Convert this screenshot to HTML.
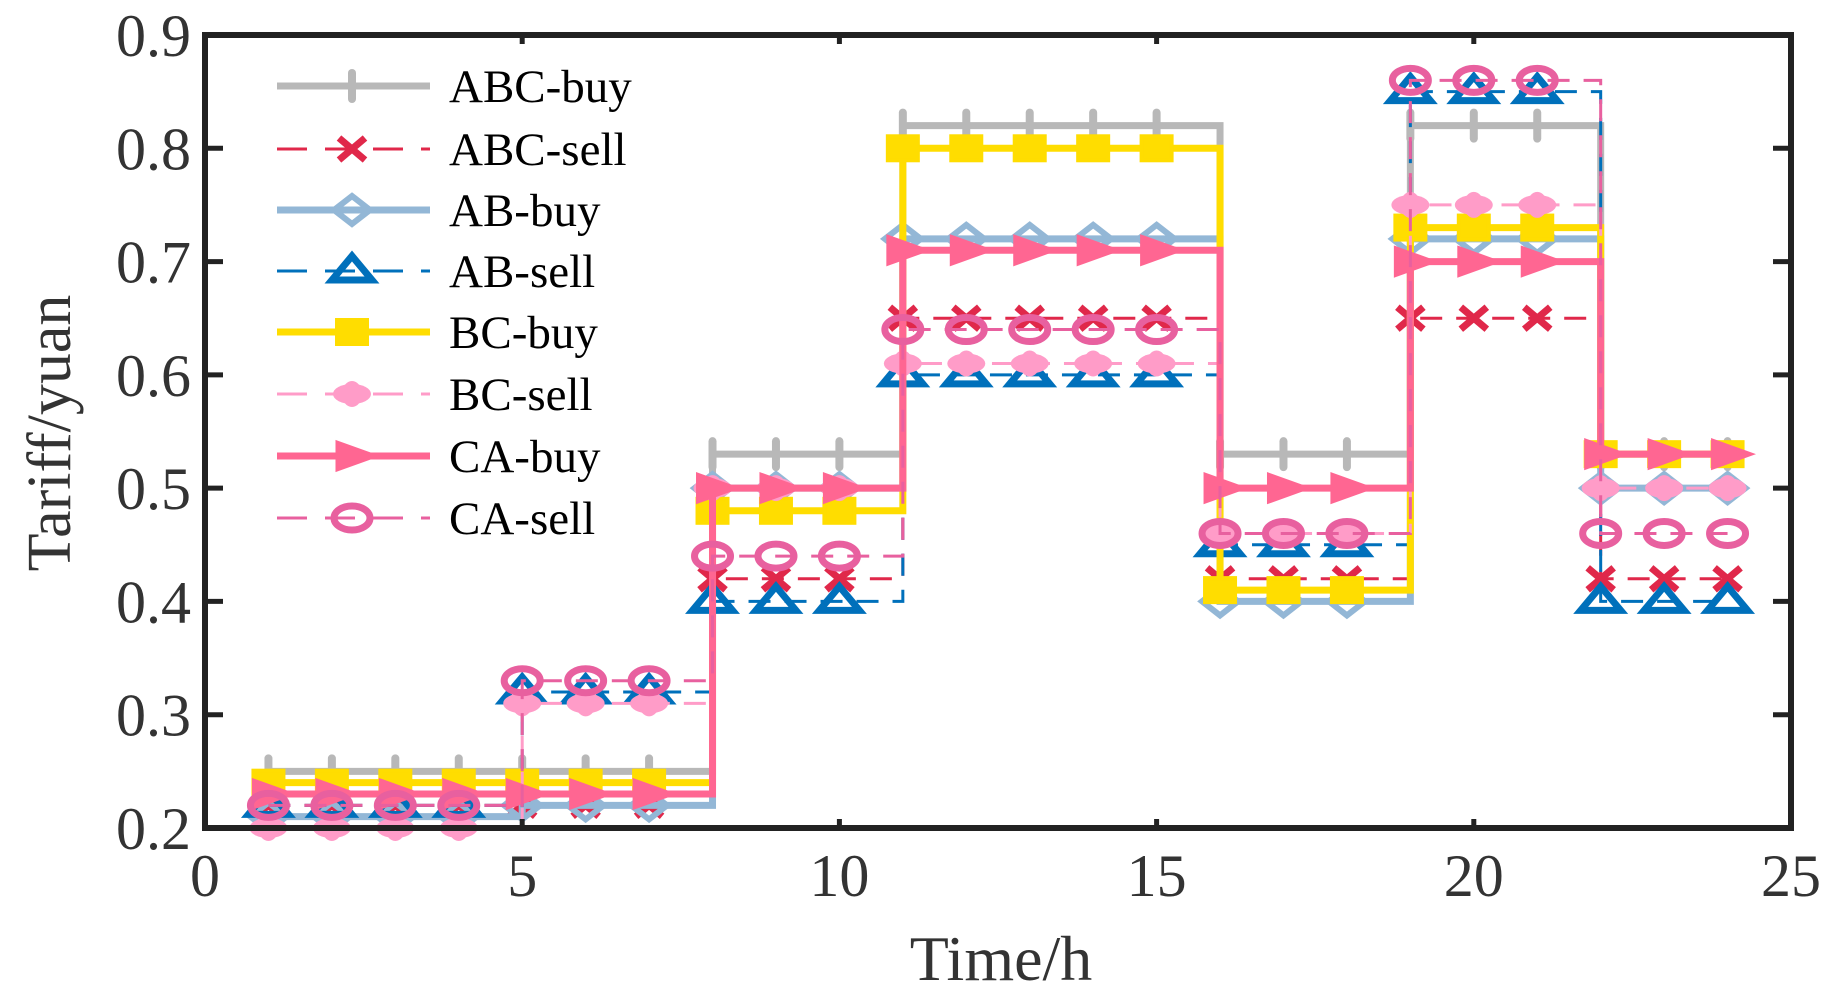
<!DOCTYPE html>
<html><head><meta charset="utf-8"><style>
html,body{margin:0;padding:0;background:#fff;width:1839px;height:1000px;overflow:hidden}
svg text{font-family:"Liberation Serif",serif;fill:#333}
</style></head><body>
<svg id="s" width="1839" height="1000" xmlns="http://www.w3.org/2000/svg"></svg>
<script>
const X0=205,X1=1791,Y0=828,Y1=35;
const sx=v=>X0+(X1-X0)*v/25, sy=v=>Y0-(Y0-Y1)*(v-0.2)/0.7;
const starts=[1,5,8,11,16,19,22];
const S=[
 {n:'ABC-buy',c:'#b8b8b8',w:7,d:'',m:'bar',v:[0.25,0.25,0.53,0.82,0.53,0.82,0.53]},
 {n:'ABC-sell',c:'#e0284a',w:3,d:'22,14',m:'x',v:[0.22,0.22,0.42,0.65,0.42,0.65,0.42]},
 {n:'AB-buy',c:'#93b7d6',w:7,d:'',m:'dia',v:[0.21,0.22,0.50,0.72,0.40,0.72,0.50]},
 {n:'AB-sell',c:'#0070bb',w:3,d:'22,14',m:'tri',v:[0.22,0.32,0.40,0.60,0.45,0.85,0.40]},
 {n:'BC-buy',c:'#ffdd00',w:7,d:'',m:'sq',v:[0.24,0.24,0.48,0.80,0.41,0.73,0.53]},
 {n:'BC-sell',c:'#ff9cc8',w:3,d:'22,14',m:'ast',v:[0.20,0.31,0.50,0.61,0.46,0.75,0.50]},
 {n:'CA-buy',c:'#ff6692',w:7,d:'',m:'tr',v:[0.23,0.23,0.50,0.71,0.50,0.70,0.53]},
 {n:'CA-sell',c:'#e8609f',w:3,d:'22,14',m:'circ',v:[0.22,0.33,0.44,0.64,0.46,0.86,0.46]},
];
function mk(t,x,y,c){
 switch(t){
 case 'bar':return `<line x1="${x}" y1="${y-13}" x2="${x}" y2="${y+13}" stroke="${c}" stroke-width="8" stroke-linecap="round"/>`;
 case 'x':return `<path d="M${x-13} ${y-11}L${x+13} ${y+11}M${x-13} ${y+11}L${x+13} ${y-11}" stroke="${c}" stroke-width="7"/>`;
 case 'dia':return `<path d="M${x} ${y-14}L${x+18} ${y}L${x} ${y+14}L${x-18} ${y}Z" fill="none" stroke="${c}" stroke-width="6"/>`;
 case 'tri':return `<path d="M${x} ${y-15}L${x+20} ${y+9}L${x-20} ${y+9}Z" fill="none" stroke="${c}" stroke-width="7"/>`;
 case 'sq':return `<rect x="${x-15}" y="${y-12}" width="30" height="24" fill="${c}" stroke="${c}" stroke-width="4"/>`;
 case 'ast':return `<g fill="${c}"><ellipse cx="${x}" cy="${y}" rx="19" ry="10"/><ellipse cx="${x}" cy="${y}" rx="10" ry="13"/></g>`;
 case 'tr':return `<path d="M${x-15} ${y-14}L${x+24} ${y}L${x-15} ${y+14}Z" fill="${c}" stroke="${c}" stroke-width="3"/>`;
 case 'circ':return `<ellipse cx="${x}" cy="${y}" rx="18" ry="12" fill="none" stroke="${c}" stroke-width="7"/>`;
 }
}
let h='<rect width="1839" height="1000" fill="#fff"/>';
S.forEach(s=>{
 let p='';
 starts.forEach((st,i)=>{
  const en=i<6?starts[i+1]:24;
  const y=sy(s.v[i]);
  if(i==0)p+=`M${sx(st)} ${y}`;else p+=`L${sx(st)} ${y}`;
  p+=`L${sx(en)} ${y}`;
 });
 h+=`<path d="${p}" fill="none" stroke="${s.c}" stroke-width="${s.w}" ${s.d?`stroke-dasharray="${s.d}"`:''}/>`;
 starts.forEach((st,i)=>{
  const en=i<6?starts[i+1]:25;
  for(let k=st;k<en;k++)h+=mk(s.m,sx(k),sy(s.v[i]),s.c);
 });
});
S.forEach((s,i)=>{
 const y=[86,149,210,271,332,394,456,518][i];
 h+=`<line x1="277" y1="${y}" x2="430" y2="${y}" stroke="${s.c}" stroke-width="${s.w}" ${s.d?`stroke-dasharray="30,18"`:''}/>`;
 h+=mk(s.m,352,y,s.c);
 h+=`<text x="449" y="${y+16}" font-size="47" style="fill:#000">${s.n}</text>`;
});
h+=`<rect x="${X0}" y="${Y1}" width="${X1-X0}" height="${Y0-Y1}" fill="none" stroke="#222" stroke-width="6"/>`;
for(let i=0;i<=5;i++){const x=sx(i*5);
 h+=`<line x1="${x}" y1="${Y0}" x2="${x}" y2="${Y0-9}" stroke="#222" stroke-width="5"/><line x1="${x}" y1="${Y1}" x2="${x}" y2="${Y1+9}" stroke="#222" stroke-width="5"/>`;
 h+=`<text x="${x}" y="${Y0+68}" font-size="60" text-anchor="middle">${i*5}</text>`;}
for(let i=2;i<=9;i++){const y=sy(i/10);
 h+=`<line x1="${X0}" y1="${y}" x2="${X0+18}" y2="${y}" stroke="#222" stroke-width="5"/><line x1="${X1}" y1="${y}" x2="${X1-18}" y2="${y}" stroke="#222" stroke-width="5"/>`;
 h+=`<text x="${X0-14}" y="${y+21}" font-size="60" text-anchor="end">0.${i}</text>`;}
h+=`<text x="1001" y="980" font-size="64" text-anchor="middle">Time/h</text>`;
h+=`<text transform="translate(70,433) rotate(-90)" font-size="62" text-anchor="middle">Tariff/yuan</text>`;
document.getElementById('s').innerHTML=h;
</script>
</body></html>
